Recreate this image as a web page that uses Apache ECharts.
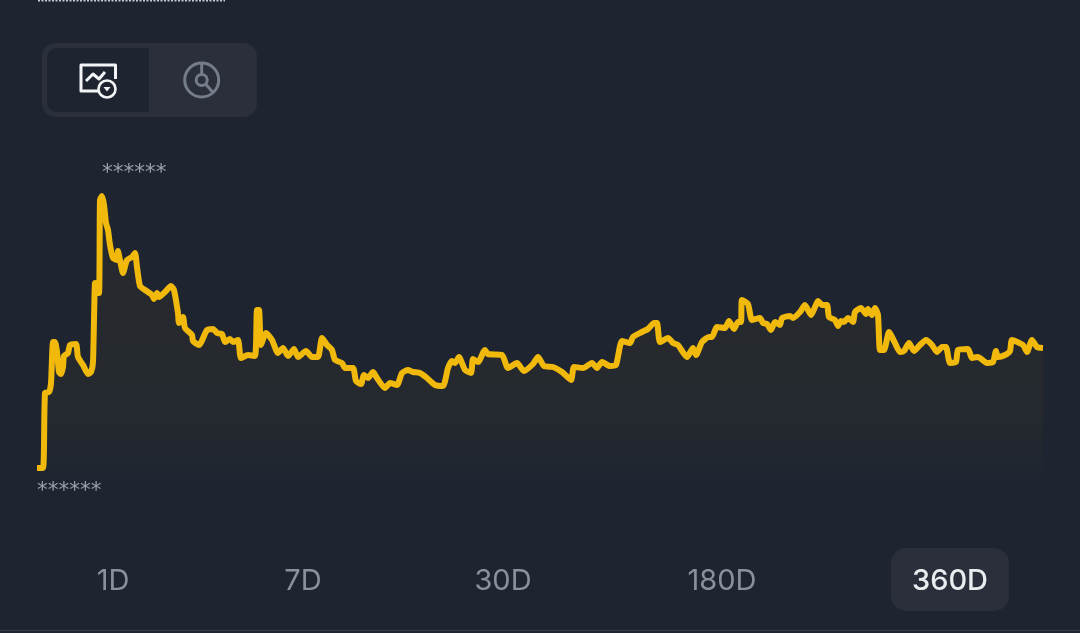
<!DOCTYPE html>
<html><head><meta charset="utf-8">
<style>html,body{margin:0;padding:0;background:#1f2530}#c{width:1080px;height:633px}</style>
<script src="https://cdn.jsdelivr.net/npm/echarts@6/dist/echarts.min.js"></script>
</head><body><div id="c"></div>
<script>
const steps=[0,6,8,12,14,16,18,20,22,24,26,27,31,33,39,41,46,51,54,56,58,59,62,63,65,67,69,71,73,76,80,81,83,86,90,95,98,100,103,108,115,117,120,122,128,134,137,141,142,146,148,155,156,162,170,176,180,185,188,193,196,201,204,211,218,220,222,224,229,235,241,246,251,257,261,269,275,281,285,290,295,298,305,308,316,319,324,327,331,336,340,348,353,360,365,371,376,383,390,398,406,411,415,418,422,428,434,436,441,448,451,465,471,480,487,496,501,507,516,525,534,537,546,555,560,565,573,579,585,593,596,605,611,617,620,623,631,636,641,650,656,659,665,672,675,680,688,692,697,701,704,705,711,715,723,726,730,734,738,743,745,753,756,763,768,774,778,781,785,790,792,798,801,804,807,811,816,818,824,829,831,835,838,841,843,847,852,858,863,867,872,877,883,889,895,900,905,909,913,919,921,931,935,940,943,950,956,959,961,968,973,975,986,990,995,1000,1006];
const prices=[0,0,75,76,85,126,126,116,96,94,101,112,115,123,124,111,103,94,96,106,185,175,175,268,272,263,245,238,223,210,208,217,208,195,208,211,215,201,182,178,173,169,175,171,176,182,178,155,145,151,140,133,127,123,138,139,135,134,126,129,126,128,110,113,112,158,158,123,135,128,115,120,112,119,111,117,111,111,130,123,118,108,105,100,100,87,84,93,90,96,90,80,85,83,95,98,96,95,90,83,82,100,107,105,111,98,95,109,106,118,114,113,100,105,97,104,111,102,101,96,88,101,100,105,100,106,102,103,127,125,131,136,139,145,145,126,130,125,123,111,120,113,126,131,131,141,140,147,139,146,146,168,164,148,150,145,144,138,146,143,150,152,150,156,163,153,161,167,163,163,151,148,142,147,146,150,146,156,160,154,159,153,160,153,118,118,136,125,116,117,125,117,123,128,123,116,121,121,105,106,118,119,110,111,110,105,106,117,111,113,117,128,123,116,128,121,120];
const rangeLabels=['1D','7D','30D','180D','360D'];
const rangeCenters=[113,303,503,722,950];
const hiddenLabel='******';
const BG='#1f2530',PANEL='#2a2f3b',GOLD='#f0b90b',GREY='#8a919e',WHITE='#eaecef',ICON='#757c8a';

const chart=echarts.init(document.getElementById('c'),null,{renderer:'canvas'});
const FONT='Inter, Lato, sans-serif';
const rangeText=rangeLabels.map((t,i)=>({
  type:'text',z:20,x:rangeCenters[i],y:581,
  style:{text:t,font:(i===4?'500 ':'400 ')+'29px '+FONT,fill:i===4?WHITE:GREY,align:'center',verticalAlign:'middle'}
}));
const graphic=[
  {type:'line',z:1,shape:{x1:38,y1:0.5,x2:225,y2:0.5},style:{stroke:'#c9ccd2',lineWidth:2,lineDash:[2,1.5]}},
  {type:'line',z:1,shape:{x1:0,y1:630.5,x2:1080,y2:630.5},style:{stroke:'#333945',lineWidth:1.5}},
  {type:'rect',z:1,shape:{x:42,y:43,width:215,height:74,r:14},style:{fill:PANEL}},
  {type:'rect',z:2,shape:{x:47,y:48,width:102,height:64,r:[10,0,0,10]},style:{fill:BG}},
  {type:'polyline',z:3,shape:{points:[[98,91],[81,91],[81,65],[115.5,65],[115.5,79]]},style:{stroke:'#f3f4f6',lineWidth:3,fill:null,lineJoin:'round'}},
  {type:'polyline',z:3,shape:{points:[[86,81],[93,74],[99,79],[105,72]]},style:{stroke:'#f3f4f6',lineWidth:3,fill:null,lineJoin:'round'}},
  {type:'circle',z:3,shape:{cx:107,cy:89,r:8.5},style:{stroke:'#f3f4f6',lineWidth:2.6,fill:BG}},
  {type:'polygon',z:4,shape:{points:[[103.5,87],[110.5,87],[107,91.5]]},style:{fill:'#f3f4f6'}},
  {type:'circle',z:3,shape:{cx:201.7,cy:80,r:17},style:{stroke:ICON,lineWidth:3,fill:null}},
  {type:'circle',z:3,shape:{cx:201.7,cy:80,r:5.5},style:{stroke:ICON,lineWidth:3,fill:null}},
  {type:'line',z:3,shape:{x1:201.7,y1:63,x2:201.7,y2:74},style:{stroke:ICON,lineWidth:3}},
  {type:'line',z:3,shape:{x1:206,y1:84.5,x2:213,y2:92.5},style:{stroke:ICON,lineWidth:3}},
  {type:'rect',z:1,shape:{x:891,y:548,width:118,height:63,r:15},style:{fill:PANEL}},
  ...rangeText
];
chart.setOption({
  animation:false,
  backgroundColor:BG,
  textStyle:{fontFamily:FONT},
  graphic:graphic,
  grid:{left:37,top:196,width:1006,height:286,containLabel:false},
  xAxis:{type:'value',min:0,max:1006,show:false},
  yAxis:{type:'value',min:-14,max:272,show:false,splitLine:{show:false}},
  tooltip:{show:false},
  series:[{
    type:'line',
    data:steps.map((s,i)=>[s,prices[i]]),
    showSymbol:false,smooth:0.2,clip:false,
    lineStyle:{color:GOLD,width:6,join:'round',cap:'butt'},
    areaStyle:{origin:'start',color:{type:'linear',x:0,y:0,x2:0,y2:1,colorStops:[
      {offset:0,color:'rgba(240,185,11,0.05)'},
      {offset:0.75,color:'rgba(240,185,11,0.045)'},
      {offset:1,color:'rgba(240,185,11,0)'}]}},
    markPoint:{symbol:'circle',symbolSize:0,silent:true,
      data:[
        {type:'max',label:{show:true,formatter:hiddenLabel,position:'top',align:'left',distance:0,offset:[0,-12],color:'#98a0ac',fontSize:21.5,fontFamily:'"DejaVu Sans"'}},
        {type:'min',label:{show:true,formatter:hiddenLabel,position:'bottom',align:'left',distance:0,offset:[0,12],color:'#98a0ac',fontSize:21.5,fontFamily:'"DejaVu Sans"'}}
      ]}
  }]
});
</script></body></html>
